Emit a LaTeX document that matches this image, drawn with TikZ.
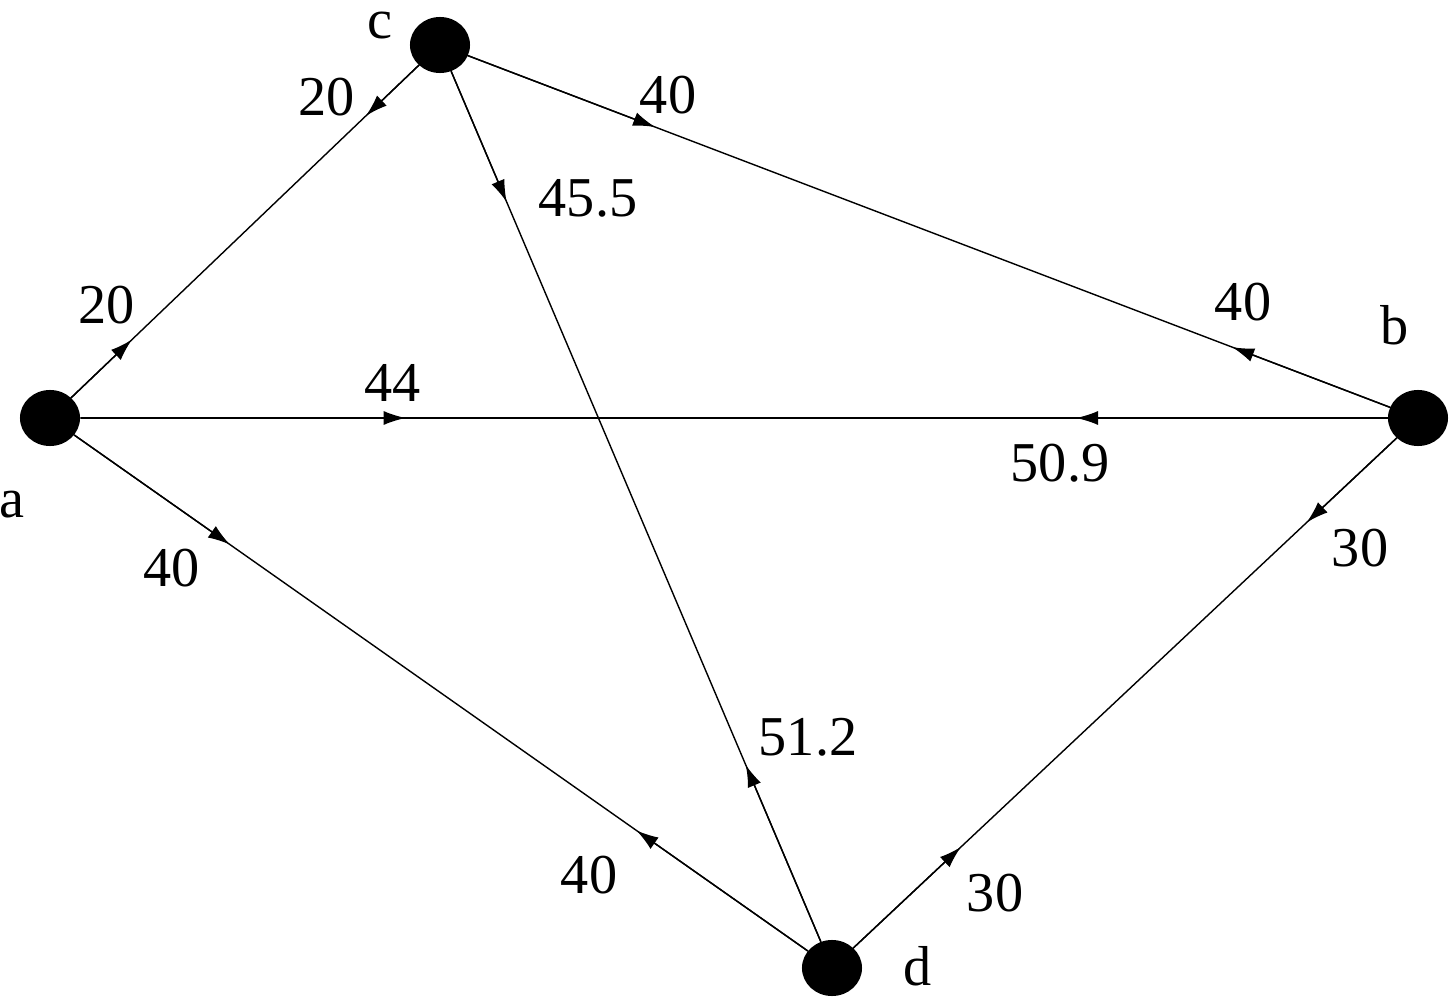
\documentclass[tikz,border=0pt]{standalone}
\usepackage{fontspec}
\setmainfont{Liberation Serif}
\usetikzlibrary{arrows.meta,calc,shapes.geometric}
\begin{document}
\begin{tikzpicture}[x=0.01cm,y=-0.01cm,
  vtx/.style={ellipse,fill=black,minimum width=0.6cm,minimum height=0.56cm,inner sep=0pt},
  lbl/.style={font=\fontsize{16}{19}\selectfont},
  edge/.style={line width=0.4pt},
  tip/.style={line width=0.4pt,-{Latex[length=0.22cm,width=0.14cm]}}]
\useasboundingbox (0,0) rectangle (1453,1000);
\node[vtx] (a) at (50,418) {};
\node[vtx] (c) at (440,45) {};
\node[vtx] (b) at (1418,418) {};
\node[vtx] (d) at (832,968) {};
\foreach \u/\v/\p/\q in {a/c/0.21/0.19, c/b/0.22/0.19, a/b/0.26/0.25, c/d/0.17/0.22, a/d/0.23/0.25, b/d/0.19/0.22}{
  \draw[edge] (\u) -- (\v);
  \draw[tip] (\u.center) -- ($(\u.center)!\p!(\v.center)$);
  \draw[tip] (\v.center) -- ($(\v.center)!\q!(\u.center)$);
}
\node[lbl] (la) at (12,505) {a};
\node[lbl] (lc) at (380,26) {c};
\node[lbl] (lb) at (1395,325) {b};
\node[lbl] (ld) at (918,966) {d};
\node[lbl] (n1) at (327,97) {20};
\node[lbl] (n2) at (107,305) {20};
\node[lbl] (n3) at (668,95) {40};
\node[lbl] (n4) at (588,198) {45.5};
\node[lbl] (n5) at (1243,302) {40};
\node[lbl] (n6) at (393,383) {44};
\node[lbl] (n7) at (1060,463) {50.9};
\node[lbl] (n8) at (172,568) {40};
\node[lbl] (n9) at (1360,548) {30};
\node[lbl] (n10) at (808,737) {51.2};
\node[lbl] (n11) at (589,875) {40};
\node[lbl] (n12) at (995,893) {30};
\end{tikzpicture}
\end{document}
